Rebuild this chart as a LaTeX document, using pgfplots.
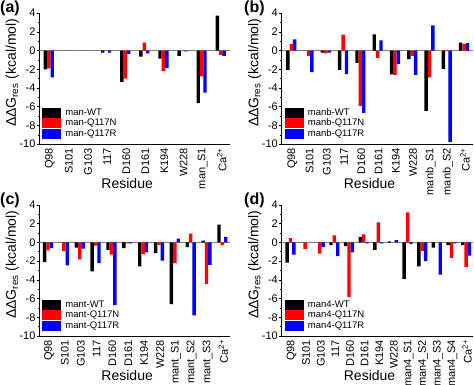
\documentclass[border=0pt]{standalone}
\usepackage{fontspec}
\setmainfont{Liberation Sans}
\usepackage{pgfplots}
\pgfplotsset{compat=1.18}

\pgfplotsset{
  panel/.style={
    scale only axis, width=191pt, height=131pt,
    ymin=-10, ymax=4, ytick={-10,-8,...,4}, minor y tick num=1,
    axis x line*=bottom, axis y line*=left,
    axis line style={-, line width=0.8pt},
    tick align=outside, major tick length=2.7pt, minor tick length=1.6pt,
    tick style={line width=0.6pt, black},
    ybar=0pt, bar width=3.4pt,
    xtick=data, x tick style={draw=none},
    xticklabel style={rotate=90, anchor=east, font=\fontsize{11}{12}\selectfont, inner sep=1pt, yshift=-1pt},
    yticklabel style={font=\fontsize{11}{12}\selectfont, inner sep=1pt},
    /pgf/number format/assume math mode=true,
    ylabel={ΔΔG\textsubscript{res} (kcal/mol)},
    every axis y label/.style={at={([xshift=-27pt]rel axis cs:0,0.545)}, rotate=90, anchor=center, font=\fontsize{14}{16}\selectfont},
    xlabel={Residue},
    every axis x label/.style={at={([yshift=-39pt]rel axis cs:0.46,0)}, anchor=center, font=\fontsize{14}{16}\selectfont},
    legend style={at={([xshift=3pt,yshift=5pt]rel axis cs:0,0)}, anchor=south west, draw=none, fill=none,
      inner sep=0pt, row sep=0.6pt, column sep=3.5pt, font=\fontsize{9.5}{10}\selectfont,
      nodes={inner sep=0.5pt, text height=7pt, text depth=2pt}},
    legend cell align=left,
    legend image code/.code={\fill[#1] (0pt,-5pt) rectangle (19pt,5pt);},
    clip=false,
  },
  wt/.style={fill=black, draw=none},
  qn/.style={fill=red, draw=none},
  qr/.style={fill=blue, draw=none},
}

\begin{document}
\begin{tikzpicture}
\useasboundingbox (0pt,0pt) rectangle (474pt,384pt);

% ---------- (a)
\begin{axis}[panel, at={(39.3pt,239.8pt)}, anchor=south west,
  xmin=-0.5, xmax=9.5,
  xticklabels={Q98,S101,G103,117,D160,D161,K194,W228,man\_S1,Ca\textsuperscript{2+}}]
\draw[gray, line width=0.8pt] (axis cs:-0.5,0) -- (axis cs:9.5,0);
\addplot[wt] coordinates {(0,-2.0) (1,0) (2,0) (3,-0.2) (4,-3.35) (5,-0.65) (6,-0.85) (7,-0.55) (8,-5.6) (9,3.75)};
\addplot[qn] coordinates {(0,-1.9) (1,0) (2,0) (3,0) (4,-3.0) (5,0.85) (6,-2.2) (7,0) (8,-2.75) (9,-0.45)};
\addplot[qr] coordinates {(0,-2.85) (1,0) (2,0) (3,-0.2) (4,-0.35) (5,-0.3) (6,-1.85) (7,-0.07) (8,-4.5) (9,-0.55)};
\legend{man-WT,man-Q117N,man-Q117R}
\end{axis}

% ---------- (b)
\begin{axis}[panel, at={(281.7pt,239.8pt)}, anchor=south west,
  xmin=-0.55, xmax=10.5,
  xticklabels={Q98,S101,G103,117,D160,D161,K194,W228,manb\_S1,manb\_S2,Ca\textsuperscript{2+}}]
\draw[gray, line width=0.8pt] (axis cs:-0.55,0) -- (axis cs:10.5,0);
\addplot[wt] coordinates {(0,-2.05) (1,0) (2,-0.2) (3,-2.05) (4,-1.3) (5,1.75) (6,-2.55) (7,-0.9) (8,-6.45) (9,-1.95) (10,0.85)};
\addplot[qn] coordinates {(0,0.7) (1,-0.6) (2,-0.3) (3,1.7) (4,-5.9) (5,-0.8) (6,-2.6) (7,-0.55) (8,-2.85) (9,0.05) (10,0.7)};
\addplot[qr] coordinates {(0,1.2) (1,-2.3) (2,-0.2) (3,-2.5) (4,-6.65) (5,1.1) (6,-1.45) (7,-2.6) (8,2.7) (9,-9.75) (10,0.8)};
\legend{manb-WT,manb-Q117N,manb-Q117R}
\end{axis}

% ---------- (c)
\begin{axis}[panel, at={(39.3pt,48pt)}, anchor=south west,
  xmin=-0.55, xmax=11.5,
  xticklabels={Q98,S101,G103,117,D160,D161,K194,W228,mant\_S1,mant\_S2,mant\_S3,Ca\textsuperscript{2+}}]
\draw[gray, line width=0.8pt] (axis cs:-0.55,0) -- (axis cs:11.5,0);
\addplot[wt] coordinates {(0,-2.1) (1,0) (2,-0.55) (3,-3.1) (4,-0.8) (5,-0.6) (6,-2.55) (7,-1.15) (8,-6.6) (9,-0.5) (10,0.2) (11,1.9)};
\addplot[qn] coordinates {(0,-0.85) (1,-0.9) (2,-1.8) (3,-0.35) (4,-1.3) (5,-0.1) (6,-1.25) (7,-0.3) (8,-2.2) (9,0.95) (10,-4.45) (11,-0.3)};
\addplot[qr] coordinates {(0,-0.6) (1,-2.45) (2,-0.65) (3,-2.2) (4,-6.7) (5,-0.1) (6,-1.05) (7,-1.95) (8,0.4) (9,-7.8) (10,-2.4) (11,0.6)};
\legend{mant-WT,mant-Q117N,mant-Q117R}
\end{axis}

% ---------- (d)
\begin{axis}[panel, at={(281.7pt,48pt)}, anchor=south west,
  xmin=-0.6, xmax=12.45,
  xticklabels={Q98,S101,G103,117,D160,D161,K194,W228,man4\_S1,man4\_S2,man4\_S3,man4\_S4,Ca\textsuperscript{2+}}]
\draw[gray, line width=0.8pt] (axis cs:-0.6,0) -- (axis cs:12.45,0);
\addplot[wt] coordinates {(0,-2.15) (1,0) (2,0) (3,-0.3) (4,-0.4) (5,0.6) (6,-0.8) (7,0.1) (8,-3.9) (9,-2.55) (10,-0.55) (11,-0.3) (12,-0.3)};
\addplot[qn] coordinates {(0,0.45) (1,-0.7) (2,-1.2) (3,0.75) (4,-5.85) (5,0.85) (6,2.15) (7,0) (8,3.2) (9,-0.9) (10,0) (11,-1.65) (12,-2.6)};
\addplot[qr] coordinates {(0,-1.3) (1,0) (2,-0.5) (3,-1.45) (4,-1.05) (5,-0.1) (6,-0.1) (7,0.25) (8,-0.15) (9,-2.0) (10,-3.45) (11,-0.1) (12,-1.4)};
\legend{man4-WT,man4-Q117N,man4-Q117R}
\end{axis}

\node[font=\bfseries\fontsize{16}{18}\selectfont, anchor=north west, inner sep=0pt] at (0pt,383pt) {(a)};
\node[font=\bfseries\fontsize{16}{18}\selectfont, anchor=north west, inner sep=0pt] at (244pt,383pt) {(b)};
\node[font=\bfseries\fontsize{16}{18}\selectfont, anchor=north west, inner sep=0pt] at (0pt,191pt) {(c)};
\node[font=\bfseries\fontsize{16}{18}\selectfont, anchor=north west, inner sep=0pt] at (244pt,191pt) {(d)};
\end{tikzpicture}
\end{document}
